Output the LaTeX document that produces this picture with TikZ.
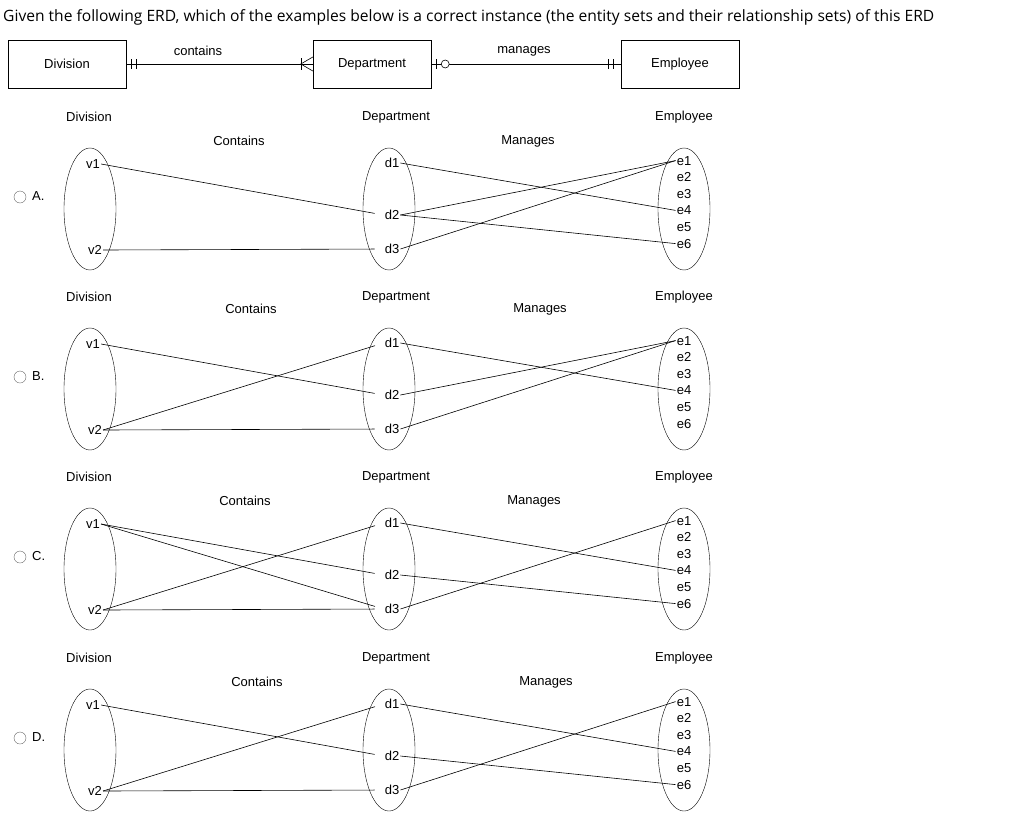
\documentclass[tikz,border=0pt]{standalone}
\usepackage{fontspec}
\usetikzlibrary{shapes.geometric}
\setmainfont{Liberation Sans}
\newfontfamily\ttl{Open Sans}
\begin{document}
\begin{tikzpicture}[x=1pt,y=-1pt,
  lab/.style={font=\fontsize{13}{15}\selectfont,inner sep=1pt},
  el/.style={font=\fontsize{13}{14}\selectfont,inner sep=1pt},
  ent/.style={draw,minimum width=118pt,minimum height=48pt,font=\fontsize{13}{15}\selectfont},
  set/.style={draw,ellipse,minimum width=52pt,minimum height=122pt,inner sep=0pt},
  ln/.style={draw,line width=0.6pt},
  opt/.style={circle,draw,minimum size=12pt,inner sep=0pt,gray!80!black}]
\useasboundingbox (0,0) rectangle (1024,814);
\node[anchor=west,font=\ttl\fontsize{15.6}{18}\selectfont,inner sep=0pt] (title) at (3,17) {Given the following ERD, which of the examples below is a correct instance (the entity sets and their relationship sets) of this ERD};
% top ERD
\node[ent] (Div) at (67,64) {Division};
\node[ent] (Dep) at (372,64) {Department};
\node[ent] (Emp) at (680,64) {Employee};
\node[lab] (contains) at (198,51) {contains};
\node[lab] (manages) at (524,51) {manages};
\draw[ln] (Div.east) -- (Dep.west);
\draw[ln] (Dep.east) -- (Emp.west);
\draw[ln] (Div.east) ++(5,-5) -- ++(0,10);
\draw[ln] (Div.east) ++(10,-5) -- ++(0,10);
\draw[ln] (Dep.west) ++(-12,-6) -- ++(0,12);
\draw[ln] (Dep.west) ++(0,-7) -- ++(-12,7) -- ++(12,7);
\draw[ln] (Dep.east) ++(5,-5) -- ++(0,10);
\draw[ln,fill=white] (Dep.east) ++(14,0) circle (4);
\draw[ln] (Emp.west) ++(-8,-5) -- ++(0,10);
\draw[ln] (Emp.west) ++(-13,-5) -- ++(0,10);
\newcommand\Blk[6]{%
 \begin{scope}[shift={(0,#2)}]
 \node[opt] (#1o) at (20,80) {};
 \node[lab,anchor=west] (#1opt) at (31,79) {#1.};
 \node[lab] (#1Dl) at (89,0) {Division};
 \node[lab] (#1Pl) at (396,0) {Department};
 \node[lab] (#1El) at (684,0) {Employee};
 \node[lab] (#1C) at (#3,#4) {Contains};
 \node[lab] (#1M) at (#5,#4) {Manages};
 \node[set] (#1Ds) at (90,92) {};
 \node[set] (#1Ps) at (389,92) {};
 \node[set] (#1Es) at (684,92) {};
 \node[el] (#1v1) at (93,47) {v1};
 \node[el] (#1v2) at (95,133) {v2};
 \node[el] (#1d1) at (392,46) {d1};
 \node[el] (#1d2) at (392,98) {d2};
 \node[el] (#1d3) at (392,132) {d3};
 \foreach \i in {1,...,6}{\node[el] (#1e\i) at (684,27+16.6*\i) {e\i};}
 #6
 \end{scope}}
\newcommand\cn[2]{\draw[ln,shorten >=9pt] (#1.east) -- (#2.west);}
\newcommand\cm[2]{\draw[ln] (#1.east) -- (#2.west);}
\Blk{A}{117}{239}{24}{528}{\cn{Av1}{Ad2}\cn{Av2}{Ad3}\cm{Ad1}{Ae4}\cm{Ad2}{Ae1}\cm{Ad2}{Ae6}\cm{Ad3}{Ae1}}
\Blk{B}{297}{251}{12}{540}{\cn{Bv1}{Bd2}\cn{Bv2}{Bd1}\cn{Bv2}{Bd3}\cm{Bd1}{Be4}\cm{Bd2}{Be1}\cm{Bd3}{Be1}}
\Blk{C}{477}{245}{24}{534}{\cn{Cv1}{Cd2}\cn{Cv1}{Cd3}\cn{Cv2}{Cd1}\cn{Cv2}{Cd3}\cm{Cd1}{Ce4}\cm{Cd2}{Ce6}\cm{Cd3}{Ce1}}
\Blk{D}{658}{257}{24}{546}{\cn{Dv1}{Dd2}\cn{Dv2}{Dd1}\cn{Dv2}{Dd3}\cm{Dd1}{De4}\cm{Dd2}{De6}\cm{Dd3}{De1}}
\end{tikzpicture}
\end{document}
